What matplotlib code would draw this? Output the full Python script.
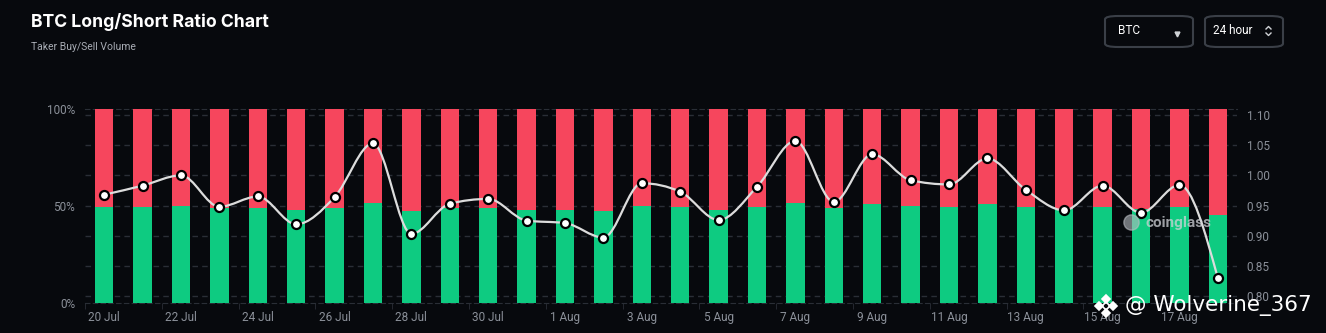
import matplotlib.pyplot as plt
import numpy as np
from matplotlib.path import Path
from matplotlib.patches import PathPatch, FancyBboxPatch
from matplotlib.lines import Line2D

plt.rcParams['font.family'] = ['Roboto', 'DejaVu Sans']

# data (20 Jul - 18 Aug)
dates = ['20 Jul', '21 Jul', '22 Jul', '23 Jul', '24 Jul', '25 Jul', '26 Jul', '27 Jul',
         '28 Jul', '29 Jul', '30 Jul', '31 Jul', '1 Aug', '2 Aug', '3 Aug', '4 Aug',
         '5 Aug', '6 Aug', '7 Aug', '8 Aug', '9 Aug', '10 Aug', '11 Aug', '12 Aug',
         '13 Aug', '14 Aug', '15 Aug', '16 Aug', '17 Aug', '18 Aug']
long_pct = [49.2, 49.6, 50.0, 48.7, 49.1, 47.9, 49.1, 51.3, 47.5, 48.8,
            49.0, 48.1, 47.9, 47.3, 49.7, 49.3, 48.1, 49.5, 51.4, 48.9,
            50.9, 49.8, 49.6, 50.7, 49.4, 48.5, 49.6, 48.4, 49.6, 45.4]
ratio = [0.968, 0.983, 1.000, 0.948, 0.965, 0.919, 0.964, 1.053, 0.903, 0.953,
         0.961, 0.925, 0.921, 0.897, 0.987, 0.973, 0.926, 0.981, 1.057, 0.956,
         1.035, 0.992, 0.985, 1.028, 0.976, 0.942, 0.983, 0.938, 0.984, 0.830]
short_pct = [100 - v for v in long_pct]
ratio_ticks = [0.80, 0.85, 0.90, 0.95, 1.00, 1.05, 1.10]

BG = '#07090d'
GREEN = '#0ecb81'
RED = '#f6465d'
GRID = '#2a2e36'
TXT = '#8b9099'

fig = plt.figure(figsize=(13.26, 3.33), dpi=100, facecolor=BG)
ax = fig.add_axes([85 / 1326, 1 - 302.7 / 333, (1237 - 85) / 1326, (302.7 - 109) / 333])
ax2 = ax.twinx()
ax2.set_zorder(0)
ax.set_zorder(1)
ax.patch.set_visible(False)
ax2.set_facecolor(BG)

x = np.arange(len(dates))
ax.bar(x, long_pct, width=0.48, color=GREEN, zorder=2)
ax.bar(x, short_pct, width=0.48, bottom=long_pct, color=RED, zorder=2)
ax.set_xlim(-0.5, len(dates) - 0.5)
ax.set_ylim(0, 100)
ax.set_yticks([0, 50, 100])
ax.set_yticklabels(['0%', '50%', '100%'])

# smooth (monotone) line through the ratio points
y = np.array(ratio)
s = np.diff(y)
t = np.zeros(len(y))
for i in range(1, len(y) - 1):
    s0, s1 = s[i - 1], s[i]
    if s0 * s1 <= 0:
        t[i] = 0
    else:
        p = (s0 + s1) / 2
        t[i] = (np.sign(s0) + np.sign(s1)) * min(abs(s0), abs(s1), 0.5 * abs(p))
t[0] = (3 * s[0] - t[1]) / 2
t[-1] = (3 * s[-1] - t[-2]) / 2
verts = [(x[0], y[0])]
codes = [Path.MOVETO]
for i in range(len(y) - 1):
    verts += [(x[i] + 1 / 3, y[i] + t[i] / 3), (x[i + 1] - 1 / 3, y[i + 1] - t[i + 1] / 3),
              (x[i + 1], y[i + 1])]
    codes += [Path.CURVE4] * 3
ax.add_patch(PathPatch(Path(verts, codes), facecolor='none', edgecolor='#dcdcdc',
                       lw=1.6, transform=ax2.transData, zorder=3))
ax.plot(x, ratio, ls='none', marker='o', ms=6.5, mfc='white', mec='black', mew=1.6,
        transform=ax2.transData, zorder=4)

ax2.set_ylim(0.789, 1.110)
ax2.set_yticks(ratio_ticks)
ax2.set_yticklabels([f'{v:.2f}' for v in ratio_ticks])
ax2.yaxis.grid(True, color=GRID, ls=(0, (4, 3)), lw=1)

for a in (ax, ax2):
    for sp in a.spines.values():
        sp.set_visible(False)
for side in ('top', 'bottom'):
    ax2.spines[side].set_visible(True)
    ax2.spines[side].set_color(GRID)
    ax2.spines[side].set_linestyle((0, (4, 3)))

ax.set_xticks(x[::2])
ax.set_xticklabels(dates[::2])
ax.set_xticks(np.arange(-0.5, len(dates), 2), minor=True)
ax.tick_params(axis='x', which='major', length=0, pad=6, labelsize=8.5, labelcolor=TXT)
ax.tick_params(axis='x', which='minor', length=4, color=GRID)
ax.tick_params(axis='y', length=0, pad=7, labelsize=8.5, labelcolor=TXT)
ax2.tick_params(axis='y', length=0, pad=7, labelsize=8.5, labelcolor=TXT)
ax2.tick_params(axis='x', length=0)

# header
fig.text(31 / 1326, 1 - 22 / 333, 'BTC Long/Short Ratio Chart', color='white',
         fontsize=12.7, fontweight='bold', va='center', ha='left', family='Inter')
fig.text(31 / 1326, 1 - 47 / 333, 'Taker Buy/Sell Volume', color='#a9adb5',
         fontsize=7.5, va='center', ha='left')

# selector boxes
for x0, x1 in [(1105, 1193), (1205, 1283)]:
    fig.add_artist(FancyBboxPatch((x0 / 1326, 1 - 47 / 333), (x1 - x0) / 1326, 31 / 333,
                                  boxstyle='round,pad=0,rounding_size=0.01',
                                  transform=fig.transFigure, facecolor='none',
                                  edgecolor='#3a3f47', lw=1.5))
fig.text(1118 / 1326, 1 - 30 / 333, 'BTC', color='white', fontsize=8.5, va='center')
fig.add_artist(Line2D([1177 / 1326], [1 - 34 / 333], marker='v', ms=3.5, color='#cfd2d6',
                      transform=fig.transFigure))
fig.text(1213 / 1326, 1 - 30 / 333, '24 hour', color='white', fontsize=8.5, va='center')
fig.add_artist(Line2D([1266 / 1326, 1268.5 / 1326, 1271 / 1326],
                      [1 - 29 / 333, 1 - 26.5 / 333, 1 - 29 / 333], color='#cfd2d6', lw=1,
                      transform=fig.transFigure))
fig.add_artist(Line2D([1266 / 1326, 1268.5 / 1326, 1271 / 1326],
                      [1 - 33 / 333, 1 - 35.5 / 333, 1 - 33 / 333], color='#cfd2d6', lw=1,
                      transform=fig.transFigure))

# watermarks
fig.add_artist(Line2D([1131 / 1326], [1 - 222 / 333], marker='o', ms=11, color='#b8bcc2',
                      alpha=0.6, transform=fig.transFigure))
fig.text(1145 / 1326, 1 - 223 / 333, 'coinglass', color='#d0d3d8', alpha=0.75,
         fontsize=11, fontweight='bold', va='center')
fig.text(1125 / 1326, 1 - 305 / 333, '@ Wolverine_367', color='white', fontsize=15.5,
         va='center', ha='left', family='DejaVu Sans')
for dx, dy in [(0, 7), (-7, 0), (7, 0), (0, -7), (0, 0)]:
    fig.add_artist(Line2D([(1106 + dx) / 1326], [1 - (306 - dy) / 333], marker='D', ms=4,
                          mfc='none' if (dx, dy) == (0, 0) else 'white', mec='white',
                          mew=1.2, transform=fig.transFigure))

fig.savefig('out.png', dpi=100, facecolor=BG)
